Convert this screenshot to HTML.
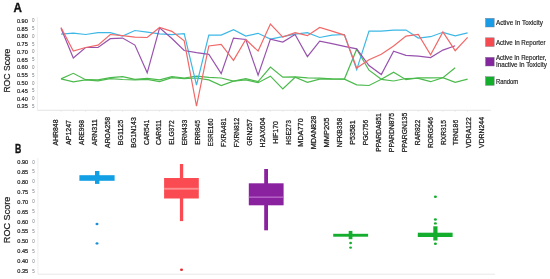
<!DOCTYPE html>
<html><head><meta charset="utf-8"><title>ROC Score</title>
<style>
html,body{margin:0;padding:0;background:#fff;}
body{width:550px;height:279px;overflow:hidden;}
svg{display:block;filter:blur(0.3px);font-family:"Liberation Sans",sans-serif;}
</style></head><body>
<svg width="550" height="279" viewBox="0 0 550 279">
<rect width="550" height="279" fill="#fff"/>

<text x="13.6" y="11.8" font-size="12.3" font-weight="bold" fill="#111" stroke="#111" stroke-width="0.35" textLength="8.4" lengthAdjust="spacingAndGlyphs">A</text>
<text x="15.1" y="153.0" font-size="12" font-weight="bold" fill="#111" stroke="#111" stroke-width="0.35" textLength="6.3" lengthAdjust="spacingAndGlyphs">B</text>
<text transform="translate(9.6,70.6) rotate(-90)" text-anchor="middle" font-size="9" fill="#222" stroke="#222" stroke-width="0.22" textLength="44" lengthAdjust="spacingAndGlyphs">ROC Score</text>
<text transform="translate(10.2,219.9) rotate(-90)" text-anchor="middle" font-size="9.4" fill="#222" stroke="#222" stroke-width="0.22" textLength="46.5" lengthAdjust="spacingAndGlyphs">ROC Score</text>
<text x="27.8" y="22.7" text-anchor="end" font-size="5.6" fill="#222" stroke="#222" stroke-width="0.2">0.90</text>
<text x="33.2" y="22.2" text-anchor="middle" font-size="4.5" fill="#767b80">0</text>
<text x="27.8" y="30.5" text-anchor="end" font-size="5.6" fill="#222" stroke="#222" stroke-width="0.2">0.85</text>
<text x="33.2" y="30.0" text-anchor="middle" font-size="4.5" fill="#767b80">5</text>
<text x="27.8" y="38.3" text-anchor="end" font-size="5.6" fill="#222" stroke="#222" stroke-width="0.2">0.80</text>
<text x="33.2" y="37.8" text-anchor="middle" font-size="4.5" fill="#767b80">0</text>
<text x="27.8" y="46.1" text-anchor="end" font-size="5.6" fill="#222" stroke="#222" stroke-width="0.2">0.75</text>
<text x="33.2" y="45.6" text-anchor="middle" font-size="4.5" fill="#767b80">5</text>
<text x="27.8" y="53.9" text-anchor="end" font-size="5.6" fill="#222" stroke="#222" stroke-width="0.2">0.70</text>
<text x="33.2" y="53.4" text-anchor="middle" font-size="4.5" fill="#767b80">0</text>
<text x="27.8" y="61.7" text-anchor="end" font-size="5.6" fill="#222" stroke="#222" stroke-width="0.2">0.65</text>
<text x="33.2" y="61.2" text-anchor="middle" font-size="4.5" fill="#767b80">5</text>
<text x="27.8" y="69.4" text-anchor="end" font-size="5.6" fill="#222" stroke="#222" stroke-width="0.2">0.60</text>
<text x="33.2" y="68.9" text-anchor="middle" font-size="4.5" fill="#767b80">0</text>
<text x="27.8" y="77.2" text-anchor="end" font-size="5.6" fill="#222" stroke="#222" stroke-width="0.2">0.55</text>
<text x="33.2" y="76.7" text-anchor="middle" font-size="4.5" fill="#767b80">5</text>
<text x="27.8" y="85.0" text-anchor="end" font-size="5.6" fill="#222" stroke="#222" stroke-width="0.2">0.50</text>
<text x="33.2" y="84.5" text-anchor="middle" font-size="4.5" fill="#767b80">0</text>
<text x="27.8" y="92.8" text-anchor="end" font-size="5.6" fill="#222" stroke="#222" stroke-width="0.2">0.45</text>
<text x="33.2" y="92.3" text-anchor="middle" font-size="4.5" fill="#767b80">5</text>
<text x="27.8" y="100.6" text-anchor="end" font-size="5.6" fill="#222" stroke="#222" stroke-width="0.2">0.40</text>
<text x="33.2" y="100.1" text-anchor="middle" font-size="4.5" fill="#767b80">0</text>
<text x="27.8" y="108.4" text-anchor="end" font-size="5.6" fill="#222" stroke="#222" stroke-width="0.2">0.35</text>
<text x="33.2" y="107.9" text-anchor="middle" font-size="4.5" fill="#767b80">5</text>
<text x="28.2" y="164.0" text-anchor="end" font-size="5.6" fill="#222" stroke="#222" stroke-width="0.2">0.90</text>
<text x="33.6" y="163.5" text-anchor="middle" font-size="4.5" fill="#767b80">0</text>
<text x="28.2" y="173.9" text-anchor="end" font-size="5.6" fill="#222" stroke="#222" stroke-width="0.2">0.85</text>
<text x="33.6" y="173.4" text-anchor="middle" font-size="4.5" fill="#767b80">5</text>
<text x="28.2" y="183.8" text-anchor="end" font-size="5.6" fill="#222" stroke="#222" stroke-width="0.2">0.80</text>
<text x="33.6" y="183.3" text-anchor="middle" font-size="4.5" fill="#767b80">0</text>
<text x="28.2" y="193.7" text-anchor="end" font-size="5.6" fill="#222" stroke="#222" stroke-width="0.2">0.75</text>
<text x="33.6" y="193.2" text-anchor="middle" font-size="4.5" fill="#767b80">5</text>
<text x="28.2" y="203.6" text-anchor="end" font-size="5.6" fill="#222" stroke="#222" stroke-width="0.2">0.70</text>
<text x="33.6" y="203.1" text-anchor="middle" font-size="4.5" fill="#767b80">0</text>
<text x="28.2" y="213.6" text-anchor="end" font-size="5.6" fill="#222" stroke="#222" stroke-width="0.2">0.65</text>
<text x="33.6" y="213.1" text-anchor="middle" font-size="4.5" fill="#767b80">5</text>
<text x="28.2" y="223.5" text-anchor="end" font-size="5.6" fill="#222" stroke="#222" stroke-width="0.2">0.60</text>
<text x="33.6" y="223.0" text-anchor="middle" font-size="4.5" fill="#767b80">0</text>
<text x="28.2" y="233.4" text-anchor="end" font-size="5.6" fill="#222" stroke="#222" stroke-width="0.2">0.55</text>
<text x="33.6" y="232.9" text-anchor="middle" font-size="4.5" fill="#767b80">5</text>
<text x="28.2" y="243.3" text-anchor="end" font-size="5.6" fill="#222" stroke="#222" stroke-width="0.2">0.50</text>
<text x="33.6" y="242.8" text-anchor="middle" font-size="4.5" fill="#767b80">0</text>
<text x="28.2" y="253.2" text-anchor="end" font-size="5.6" fill="#222" stroke="#222" stroke-width="0.2">0.45</text>
<text x="33.6" y="252.7" text-anchor="middle" font-size="4.5" fill="#767b80">5</text>
<text x="28.2" y="263.1" text-anchor="end" font-size="5.6" fill="#222" stroke="#222" stroke-width="0.2">0.40</text>
<text x="33.6" y="262.6" text-anchor="middle" font-size="4.5" fill="#767b80">0</text>
<text x="28.2" y="273.0" text-anchor="end" font-size="5.6" fill="#222" stroke="#222" stroke-width="0.2">0.35</text>
<text x="33.6" y="272.5" text-anchor="middle" font-size="4.5" fill="#767b80">5</text>
<line x1="37.4" y1="17" x2="37.4" y2="110.3" stroke="#ebebeb" stroke-width="0.8"/>
<line x1="37.4" y1="110.3" x2="490.7" y2="110.3" stroke="#dcdcdc" stroke-width="0.8"/>
<line x1="61.0" y1="110.3" x2="61.0" y2="112" stroke="#e4e4e4" stroke-width="0.6"/>
<line x1="73.3" y1="110.3" x2="73.3" y2="112" stroke="#e4e4e4" stroke-width="0.6"/>
<line x1="85.6" y1="110.3" x2="85.6" y2="112" stroke="#e4e4e4" stroke-width="0.6"/>
<line x1="98.0" y1="110.3" x2="98.0" y2="112" stroke="#e4e4e4" stroke-width="0.6"/>
<line x1="110.3" y1="110.3" x2="110.3" y2="112" stroke="#e4e4e4" stroke-width="0.6"/>
<line x1="122.6" y1="110.3" x2="122.6" y2="112" stroke="#e4e4e4" stroke-width="0.6"/>
<line x1="134.9" y1="110.3" x2="134.9" y2="112" stroke="#e4e4e4" stroke-width="0.6"/>
<line x1="147.2" y1="110.3" x2="147.2" y2="112" stroke="#e4e4e4" stroke-width="0.6"/>
<line x1="159.6" y1="110.3" x2="159.6" y2="112" stroke="#e4e4e4" stroke-width="0.6"/>
<line x1="171.9" y1="110.3" x2="171.9" y2="112" stroke="#e4e4e4" stroke-width="0.6"/>
<line x1="184.2" y1="110.3" x2="184.2" y2="112" stroke="#e4e4e4" stroke-width="0.6"/>
<line x1="196.5" y1="110.3" x2="196.5" y2="112" stroke="#e4e4e4" stroke-width="0.6"/>
<line x1="208.8" y1="110.3" x2="208.8" y2="112" stroke="#e4e4e4" stroke-width="0.6"/>
<line x1="221.2" y1="110.3" x2="221.2" y2="112" stroke="#e4e4e4" stroke-width="0.6"/>
<line x1="233.5" y1="110.3" x2="233.5" y2="112" stroke="#e4e4e4" stroke-width="0.6"/>
<line x1="245.8" y1="110.3" x2="245.8" y2="112" stroke="#e4e4e4" stroke-width="0.6"/>
<line x1="258.1" y1="110.3" x2="258.1" y2="112" stroke="#e4e4e4" stroke-width="0.6"/>
<line x1="270.4" y1="110.3" x2="270.4" y2="112" stroke="#e4e4e4" stroke-width="0.6"/>
<line x1="282.8" y1="110.3" x2="282.8" y2="112" stroke="#e4e4e4" stroke-width="0.6"/>
<line x1="295.1" y1="110.3" x2="295.1" y2="112" stroke="#e4e4e4" stroke-width="0.6"/>
<line x1="307.4" y1="110.3" x2="307.4" y2="112" stroke="#e4e4e4" stroke-width="0.6"/>
<line x1="319.7" y1="110.3" x2="319.7" y2="112" stroke="#e4e4e4" stroke-width="0.6"/>
<line x1="332.0" y1="110.3" x2="332.0" y2="112" stroke="#e4e4e4" stroke-width="0.6"/>
<line x1="344.4" y1="110.3" x2="344.4" y2="112" stroke="#e4e4e4" stroke-width="0.6"/>
<line x1="356.7" y1="110.3" x2="356.7" y2="112" stroke="#e4e4e4" stroke-width="0.6"/>
<line x1="369.0" y1="110.3" x2="369.0" y2="112" stroke="#e4e4e4" stroke-width="0.6"/>
<line x1="381.3" y1="110.3" x2="381.3" y2="112" stroke="#e4e4e4" stroke-width="0.6"/>
<line x1="393.6" y1="110.3" x2="393.6" y2="112" stroke="#e4e4e4" stroke-width="0.6"/>
<line x1="406.0" y1="110.3" x2="406.0" y2="112" stroke="#e4e4e4" stroke-width="0.6"/>
<line x1="418.3" y1="110.3" x2="418.3" y2="112" stroke="#e4e4e4" stroke-width="0.6"/>
<line x1="430.6" y1="110.3" x2="430.6" y2="112" stroke="#e4e4e4" stroke-width="0.6"/>
<line x1="442.9" y1="110.3" x2="442.9" y2="112" stroke="#e4e4e4" stroke-width="0.6"/>
<line x1="455.2" y1="110.3" x2="455.2" y2="112" stroke="#e4e4e4" stroke-width="0.6"/>
<line x1="467.6" y1="110.3" x2="467.6" y2="112" stroke="#e4e4e4" stroke-width="0.6"/>
<line x1="37.9" y1="158" x2="37.9" y2="274.2" stroke="#ebebeb" stroke-width="0.8"/>
<line x1="37.9" y1="274.2" x2="495" y2="274.2" stroke="#e2e2e2" stroke-width="0.8"/>
<text transform="translate(58.20,132.5) rotate(-90)" text-anchor="middle" font-size="7.5" fill="#1a1a1a" stroke="#1a1a1a" stroke-width="0.25" textLength="26.0" lengthAdjust="spacingAndGlyphs">AHR848</text>
<text transform="translate(71.11,132.5) rotate(-90)" text-anchor="middle" font-size="7.5" fill="#1a1a1a" stroke="#1a1a1a" stroke-width="0.25" textLength="24.8" lengthAdjust="spacingAndGlyphs">AP1247</text>
<text transform="translate(84.02,132.5) rotate(-90)" text-anchor="middle" font-size="7.5" fill="#1a1a1a" stroke="#1a1a1a" stroke-width="0.25" textLength="24.9" lengthAdjust="spacingAndGlyphs">ARE998</text>
<text transform="translate(96.93,132.5) rotate(-90)" text-anchor="middle" font-size="7.5" fill="#1a1a1a" stroke="#1a1a1a" stroke-width="0.25" textLength="26.1" lengthAdjust="spacingAndGlyphs">ARN311</text>
<text transform="translate(109.84,132.5) rotate(-90)" text-anchor="middle" font-size="7.5" fill="#1a1a1a" stroke="#1a1a1a" stroke-width="0.25" textLength="30.9" lengthAdjust="spacingAndGlyphs">AROA258</text>
<text transform="translate(122.75,132.5) rotate(-90)" text-anchor="middle" font-size="7.5" fill="#1a1a1a" stroke="#1a1a1a" stroke-width="0.25" textLength="25.5" lengthAdjust="spacingAndGlyphs">BG1125</text>
<text transform="translate(135.66,132.5) rotate(-90)" text-anchor="middle" font-size="7.5" fill="#1a1a1a" stroke="#1a1a1a" stroke-width="0.25" textLength="30.6" lengthAdjust="spacingAndGlyphs">BG1N143</text>
<text transform="translate(148.57,132.5) rotate(-90)" text-anchor="middle" font-size="7.5" fill="#1a1a1a" stroke="#1a1a1a" stroke-width="0.25" textLength="25.2" lengthAdjust="spacingAndGlyphs">CAR541</text>
<text transform="translate(161.48,132.5) rotate(-90)" text-anchor="middle" font-size="7.5" fill="#1a1a1a" stroke="#1a1a1a" stroke-width="0.25" textLength="25.2" lengthAdjust="spacingAndGlyphs">CAR611</text>
<text transform="translate(174.39,132.5) rotate(-90)" text-anchor="middle" font-size="7.5" fill="#1a1a1a" stroke="#1a1a1a" stroke-width="0.25" textLength="24.3" lengthAdjust="spacingAndGlyphs">ELG372</text>
<text transform="translate(187.30,132.5) rotate(-90)" text-anchor="middle" font-size="7.5" fill="#1a1a1a" stroke="#1a1a1a" stroke-width="0.25" textLength="25.4" lengthAdjust="spacingAndGlyphs">ERN433</text>
<text transform="translate(200.21,132.5) rotate(-90)" text-anchor="middle" font-size="7.5" fill="#1a1a1a" stroke="#1a1a1a" stroke-width="0.25" textLength="24.6" lengthAdjust="spacingAndGlyphs">ERR845</text>
<text transform="translate(213.12,132.5) rotate(-90)" text-anchor="middle" font-size="7.5" fill="#1a1a1a" stroke="#1a1a1a" stroke-width="0.25" textLength="27.8" lengthAdjust="spacingAndGlyphs">ESRE160</text>
<text transform="translate(226.03,132.5) rotate(-90)" text-anchor="middle" font-size="7.5" fill="#1a1a1a" stroke="#1a1a1a" stroke-width="0.25" textLength="28.8" lengthAdjust="spacingAndGlyphs">FXRA481</text>
<text transform="translate(238.94,132.5) rotate(-90)" text-anchor="middle" font-size="7.5" fill="#1a1a1a" stroke="#1a1a1a" stroke-width="0.25" textLength="29.3" lengthAdjust="spacingAndGlyphs">FXRN812</text>
<text transform="translate(251.85,132.5) rotate(-90)" text-anchor="middle" font-size="7.5" fill="#1a1a1a" stroke="#1a1a1a" stroke-width="0.25" textLength="26.6" lengthAdjust="spacingAndGlyphs">GRN257</text>
<text transform="translate(264.76,132.5) rotate(-90)" text-anchor="middle" font-size="7.5" fill="#1a1a1a" stroke="#1a1a1a" stroke-width="0.25" textLength="29.8" lengthAdjust="spacingAndGlyphs">H2AX604</text>
<text transform="translate(277.67,132.5) rotate(-90)" text-anchor="middle" font-size="7.5" fill="#1a1a1a" stroke="#1a1a1a" stroke-width="0.25" textLength="22.7" lengthAdjust="spacingAndGlyphs">HIF170</text>
<text transform="translate(290.58,132.5) rotate(-90)" text-anchor="middle" font-size="7.5" fill="#1a1a1a" stroke="#1a1a1a" stroke-width="0.25" textLength="24.6" lengthAdjust="spacingAndGlyphs">HSE273</text>
<text transform="translate(303.49,132.5) rotate(-90)" text-anchor="middle" font-size="7.5" fill="#1a1a1a" stroke="#1a1a1a" stroke-width="0.25" textLength="28.4" lengthAdjust="spacingAndGlyphs">MDA770</text>
<text transform="translate(316.40,132.5) rotate(-90)" text-anchor="middle" font-size="7.5" fill="#1a1a1a" stroke="#1a1a1a" stroke-width="0.25" textLength="33.5" lengthAdjust="spacingAndGlyphs">MDAN828</text>
<text transform="translate(329.31,132.5) rotate(-90)" text-anchor="middle" font-size="7.5" fill="#1a1a1a" stroke="#1a1a1a" stroke-width="0.25" textLength="29.8" lengthAdjust="spacingAndGlyphs">MMP205</text>
<text transform="translate(342.22,132.5) rotate(-90)" text-anchor="middle" font-size="7.5" fill="#1a1a1a" stroke="#1a1a1a" stroke-width="0.25" textLength="29.3" lengthAdjust="spacingAndGlyphs">NFKB358</text>
<text transform="translate(355.13,132.5) rotate(-90)" text-anchor="middle" font-size="7.5" fill="#1a1a1a" stroke="#1a1a1a" stroke-width="0.25" textLength="24.3" lengthAdjust="spacingAndGlyphs">P53581</text>
<text transform="translate(368.04,132.5) rotate(-90)" text-anchor="middle" font-size="7.5" fill="#1a1a1a" stroke="#1a1a1a" stroke-width="0.25" textLength="25.5" lengthAdjust="spacingAndGlyphs">PGC756</text>
<text transform="translate(380.95,132.5) rotate(-90)" text-anchor="middle" font-size="7.5" fill="#1a1a1a" stroke="#1a1a1a" stroke-width="0.25" textLength="38.7" lengthAdjust="spacingAndGlyphs">PPARDA851</text>
<text transform="translate(393.86,132.5) rotate(-90)" text-anchor="middle" font-size="7.5" fill="#1a1a1a" stroke="#1a1a1a" stroke-width="0.25" textLength="39.3" lengthAdjust="spacingAndGlyphs">PPARDN875</text>
<text transform="translate(406.77,132.5) rotate(-90)" text-anchor="middle" font-size="7.5" fill="#1a1a1a" stroke="#1a1a1a" stroke-width="0.25" textLength="39.4" lengthAdjust="spacingAndGlyphs">PPARGN135</text>
<text transform="translate(419.68,132.5) rotate(-90)" text-anchor="middle" font-size="7.5" fill="#1a1a1a" stroke="#1a1a1a" stroke-width="0.25" textLength="25.3" lengthAdjust="spacingAndGlyphs">RAR822</text>
<text transform="translate(432.59,132.5) rotate(-90)" text-anchor="middle" font-size="7.5" fill="#1a1a1a" stroke="#1a1a1a" stroke-width="0.25" textLength="31.0" lengthAdjust="spacingAndGlyphs">RORG546</text>
<text transform="translate(445.50,132.5) rotate(-90)" text-anchor="middle" font-size="7.5" fill="#1a1a1a" stroke="#1a1a1a" stroke-width="0.25" textLength="24.9" lengthAdjust="spacingAndGlyphs">RXR315</text>
<text transform="translate(458.41,132.5) rotate(-90)" text-anchor="middle" font-size="7.5" fill="#1a1a1a" stroke="#1a1a1a" stroke-width="0.25" textLength="25.4" lengthAdjust="spacingAndGlyphs">TRN186</text>
<text transform="translate(471.32,132.5) rotate(-90)" text-anchor="middle" font-size="7.5" fill="#1a1a1a" stroke="#1a1a1a" stroke-width="0.25" textLength="30.4" lengthAdjust="spacingAndGlyphs">VDRA122</text>
<text transform="translate(484.23,132.5) rotate(-90)" text-anchor="middle" font-size="7.5" fill="#1a1a1a" stroke="#1a1a1a" stroke-width="0.25" textLength="30.9" lengthAdjust="spacingAndGlyphs">VDRN244</text>
<polyline points="61.0,78.9 73.3,73.3 85.6,79.7 98.0,79.9 110.3,77.7 122.6,76.7 134.9,79.3 147.2,78.4 159.6,79.9 171.9,76.7 184.2,78.0 196.5,76.1 208.8,77.4 221.2,78.0 233.5,81.2 245.8,78.6 258.1,81.6 270.4,67.0 282.8,77.2 295.1,76.8 307.4,77.8 319.7,78.1 332.0,78.8 344.4,79.1 356.7,84.8 369.0,85.5 381.3,79.3 393.6,81.0 406.0,78.5 418.3,78.3 430.6,81.7 442.9,77.7 455.2,82.4 467.6,79.2" fill="none" stroke="#4cba4c" stroke-width="1.2" stroke-linejoin="miter"/>
<polyline points="61.0,78.9 73.3,81.8 85.6,79.9 98.0,80.9 110.3,78.6 122.6,79.5 134.9,79.9 147.2,79.3 159.6,81.6 171.9,77.7 184.2,78.6 196.5,78.0 208.8,79.9 221.2,85.6 233.5,81.2 245.8,79.9 258.1,82.7 270.4,76.2 282.8,89.0 295.1,77.2 307.4,82.3 319.7,79.1 332.0,79.1 344.4,79.1 356.7,49.2 369.0,70.2 381.3,79.3 393.6,72.3 406.0,79.7 418.3,77.8 430.6,77.9 442.9,77.7 455.2,67.7" fill="none" stroke="#4cba4c" stroke-width="1.2" stroke-linejoin="miter"/>
<polyline points="61.0,34.1 73.3,33.1 85.6,34.5 98.0,32.7 110.3,32.7 122.6,36.1 134.9,30.5 147.2,32.1 159.6,33.9 171.9,34.6 184.2,33.7 196.5,85.1 208.8,35.1 221.2,35.1 233.5,29.7 245.8,36.1 258.1,33.3 270.4,39.1 282.8,36.7 295.1,34.1 307.4,32.7 319.7,37.5 332.0,35.1 344.4,34.5 356.7,69.7 369.0,31.1 381.3,31.1 393.6,30.1 406.0,30.1 418.3,38.1 430.6,36.7 442.9,32.3 455.2,35.8 467.6,32.8" fill="none" stroke="#3db8e6" stroke-width="1.2" stroke-linejoin="miter"/>
<polyline points="61.0,28.2 73.3,57.9 85.6,47.5 98.0,47.5 110.3,38.7 122.6,38.1 134.9,45.1 147.2,72.8 159.6,27.8 171.9,38.5 184.2,50.5 196.5,52.6 208.8,54.3 221.2,73.6 233.5,38.1 245.8,39.5 258.1,75.2 270.4,39.1 282.8,42.1 295.1,34.5 307.4,56.6 319.7,41.1 332.0,43.6 344.4,46.3 356.7,48.8 369.0,65.5 381.3,74.6 393.6,51.2 406.0,55.3 418.3,56.2 430.6,57.6 442.9,50.1 455.2,45.8" fill="none" stroke="#9852ae" stroke-width="1.2" stroke-linejoin="miter"/>
<polyline points="61.0,27.5 73.3,51.1 85.6,47.5 98.0,45.1 110.3,34.5 122.6,35.7 134.9,37.1 147.2,37.5 159.6,27.5 171.9,31.4 184.2,40.9 196.5,106.1 208.8,46.0 221.2,44.5 233.5,60.4 245.8,39.5 258.1,51.1 270.4,24.0 282.8,37.1 295.1,32.7 307.4,35.7 319.7,27.4 332.0,31.1 344.4,35.1 356.7,68.0 369.0,59.8 381.3,54.2 393.6,46.0 406.0,36.1 418.3,34.5 430.6,54.8 442.9,32.0 455.2,50.7 467.6,37.4" fill="none" stroke="#f26868" stroke-width="1.2" stroke-linejoin="miter"/>
<rect x="485.5" y="18.3" width="8.7" height="8.7" fill="#1a9be6" stroke="#7a7a8a" stroke-width="0.4"/>
<text x="495.9" y="25.2" font-size="6.4" fill="#222" stroke="#222" stroke-width="0.16" textLength="47.0" lengthAdjust="spacingAndGlyphs">Active In Toxicity</text>
<rect x="485.5" y="37.8" width="8.7" height="8.7" fill="#f54b50" stroke="#7a7a8a" stroke-width="0.4"/>
<text x="495.9" y="44.7" font-size="6.4" fill="#222" stroke="#222" stroke-width="0.16" textLength="49.6" lengthAdjust="spacingAndGlyphs">Active In Reporter</text>
<rect x="485.5" y="57.3" width="8.7" height="8.7" fill="#84279e" stroke="#7a7a8a" stroke-width="0.4"/>
<text x="495.9" y="59.5" font-size="6.4" fill="#222" stroke="#222" stroke-width="0.16" textLength="50.5" lengthAdjust="spacingAndGlyphs">Active In Reporter,</text>
<text x="495.9" y="67.3" font-size="6.4" fill="#222" stroke="#222" stroke-width="0.16" textLength="50.9" lengthAdjust="spacingAndGlyphs">Inactive In Toxicity</text>
<rect x="485.5" y="76.7" width="8.7" height="8.7" fill="#13ae2c" stroke="#7a7a8a" stroke-width="0.4"/>
<text x="495.9" y="83.6" font-size="6.4" fill="#222" stroke="#222" stroke-width="0.16" textLength="22.3" lengthAdjust="spacingAndGlyphs">Random</text>
<rect x="95" y="171" width="4.4" height="12.9" fill="#139fe4"/>
<rect x="79.4" y="175.2" width="35.2" height="5.6" fill="#139fe4"/>
<ellipse cx="97" cy="224" rx="1.5" ry="1.2" fill="#1a8fd6"/>
<ellipse cx="97" cy="243.4" rx="1.5" ry="1.2" fill="#1a8fd6"/>
<rect x="179.9" y="164" width="3.3" height="57.1" fill="#fb4b52"/>
<rect x="164.1" y="178" width="34.7" height="20.5" fill="#fb4b52"/>
<rect x="164.1" y="187.8" width="34.7" height="1.9" fill="#fd8e90"/>
<ellipse cx="181.5" cy="269.8" rx="1.5" ry="1.2" fill="#e8262e"/>
<rect x="264.2" y="169" width="3.8" height="61.3" fill="#8a22a0"/>
<rect x="248.8" y="183.3" width="34.8" height="22" fill="#8a22a0"/>
<rect x="248.8" y="196.6" width="34.8" height="1.1" fill="#c27ad0"/>
<rect x="348.7" y="230.9" width="3.7" height="8.3" fill="#14ad2e"/>
<rect x="333.2" y="233.8" width="34.9" height="2.9" fill="#14ad2e"/>
<ellipse cx="350.6" cy="243" rx="1.4" ry="1.2" fill="#14ad2e"/>
<ellipse cx="350.6" cy="247.6" rx="1.4" ry="1.2" fill="#14ad2e"/>
<rect x="433.3" y="226.3" width="4.2" height="14.2" fill="#14ad2e"/>
<rect x="417.8" y="232.7" width="34.8" height="4.3" fill="#14ad2e"/>
<ellipse cx="435.4" cy="196.7" rx="1.5" ry="1.2" fill="#14ad2e"/>
<ellipse cx="435.4" cy="219.5" rx="1.5" ry="1.2" fill="#14ad2e"/>
<ellipse cx="435.4" cy="223.4" rx="1.5" ry="1.2" fill="#14ad2e"/>
<ellipse cx="435.4" cy="243.7" rx="1.5" ry="1.2" fill="#14ad2e"/>
</svg></body></html>
